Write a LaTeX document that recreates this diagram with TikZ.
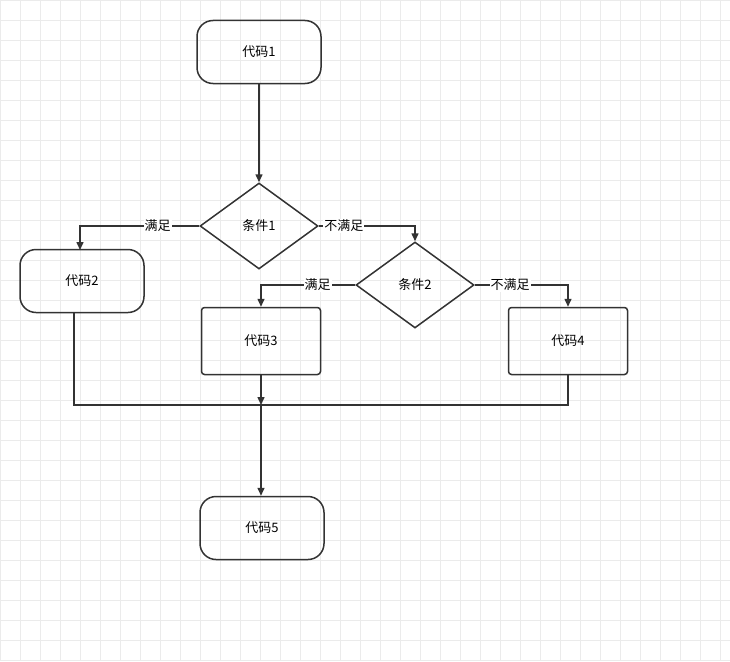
\documentclass[tikz,border=0pt]{standalone}
\usepackage{fontspec}
\setmainfont{Noto Sans CJK SC}
\usetikzlibrary{shapes.geometric,arrows.meta}
\begin{document}
\begin{tikzpicture}[x=1pt,y=-1pt,
  base/.style={draw=black!80,line width=1.5pt,font=\fontsize{13}{15}\selectfont,inner sep=0pt},
  term/.style={base,rounded corners=16pt,minimum width=124pt,minimum height=63pt},
  proc/.style={base,rounded corners=3pt,minimum width=119pt,minimum height=67pt},
  dec/.style={base,diamond,aspect=1.37,minimum width=118pt,minimum height=86pt},
  conn/.style={draw=black!80,line width=1.5pt,-{Triangle[length=8pt,width=7pt]}},
  line/.style={draw=black!80,line width=1.5pt},
  lab/.style={fill=white,font=\fontsize{13}{15}\selectfont,inner sep=1pt}]
\useasboundingbox (0,0) rectangle (730,661);
\fill[white] (0,0) rectangle (730,661);
\foreach \i in {0,20,...,720} {\draw[black!8,line width=0.6pt] (\i,0) -- (\i,661);}
\foreach \i in {0,20,...,660} {\draw[black!8,line width=0.6pt] (0,\i) -- (730,\i);}
\node[term] (c1) at (259,52) {代码1};
\node[dec] (d1) at (259,226) {条件1};
\node[term] (c2) at (82,281) {代码2};
\node[dec] (d2) at (415,285) {条件2};
\node[proc] (c3) at (261,341) {代码3};
\node[proc] (c4) at (568,341) {代码4};
\node[term] (c5) at (262,528) {代码5};
\coordinate (m) at (261,405);
\coordinate (l) at (74,405);
\coordinate (r) at (568,405);
\path[conn] (c1) -- (d1);
\path[conn] (d1.west) -| (80,250) node[lab,pos=0.175] {满足};
\path[conn] (d1.east) -| (d2.north) node[lab,pos=0.13] {不满足};
\path[conn] (d2.west) -| (c3.north) node[lab,pos=0.2] {满足};
\path[conn] (d2.east) -| (c4.north) node[lab,pos=0.19] {不满足};
\path[line] (74,312) -- (l) -- (r) -- (c4.south);
\path[conn] (c3.south) -- (m);
\path[conn] (m) -- (m |- c5.north);
\end{tikzpicture}
\end{document}
